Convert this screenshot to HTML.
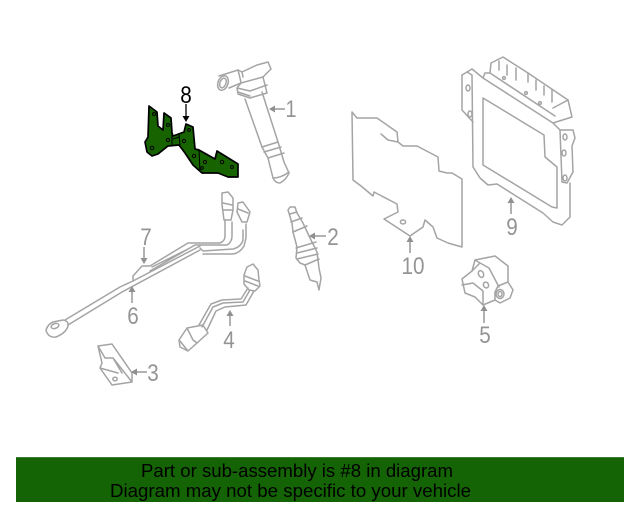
<!DOCTYPE html>
<html>
<head>
<meta charset="utf-8">
<style>
html,body{margin:0;padding:0;background:#fff}
svg{display:block}
text{font-family:"Liberation Sans",sans-serif}
</style>
</head>
<body>
<svg width="640" height="512" viewBox="0 0 640 512" xmlns="http://www.w3.org/2000/svg">
<defs><filter id="s" x="-5%" y="-5%" width="110%" height="110%"><feGaussianBlur stdDeviation="0.35"/></filter></defs>
<g filter="url(#s)">
<g fill="none" stroke="#a4a4a4" stroke-width="1.5" stroke-linejoin="round" stroke-linecap="round">
<!-- 1 coil -->
<ellipse cx="223" cy="83" rx="5" ry="7.5" transform="rotate(20 223 83)"/>
<ellipse cx="223" cy="83" rx="3" ry="5" transform="rotate(20 223 83)"/>
<path d="M219 76L238 70L242 72L257 65L268 62L271 69L263 77L265 85L267 93L250 98L238 94L237 88L241 83L229 88"/>
<path d="M238 70L240 78L241 83L263 77M242 72L243 77M237 88L250 91L267 85M238 92L250 96"/>
<path d="M245 99L262 147L268 158L273 178Q275 183 280 183Q286 180 289 173L284 162L278 142L262 92"/>
<path d="M262 147L278 142M264 152L281 147M268 158L284 153M273 178Q281 178 289 172"/>
<!-- 10 shield -->
<path d="M352 112L357 118L377 118L397 132L398 142L403 146L417 146L438 157L439 171L447 173L452 173L462 179L462 247L448 243L437 238L433 227L425 220L423 227L410 236L384 219L398 212L397 204L374 192L373 196L361 186L353 180Z"/>
<path d="M381 134L388 140L398 142"/>
<ellipse cx="403" cy="222" rx="2.6" ry="2" />
<!-- 9 ECU -->
<path d="M462 75L467 72L472 75L473 167L480 178L488 185L497 184L543 213L553 222L562 225L570 217L570 183"/>
<path d="M472 69L483 78L485 73L490 73L491 63L503 57L528 73L568 100L572 117L553 123L483 78"/>
<path d="M472 69L467 72M462 75L462 110L473 122M490 73L555 116"/>
<path d="M553 123L560 130L573 130L575 138L572 146L573 172L567 183L562 182L560 130"/>
<path d="M483 98L544 135L545 157L557 167L557 208L552 207L483 165Z"/>
<path d="M499 61L499 70M507 65L507 75M516 68L516 80M528 73L528 82M536 80L536 90M544 86L544 95M552 90L552 102M568 100L553 108"/>
<ellipse cx="468" cy="88" rx="2" ry="3"/><ellipse cx="470" cy="114" rx="2" ry="3"/>
<ellipse cx="565" cy="137" rx="2" ry="3"/><ellipse cx="564" cy="153" rx="2" ry="3"/><ellipse cx="565" cy="178" rx="2" ry="3"/>
<circle cx="504" cy="78" r="1.4"/><circle cx="526" cy="93" r="1.4"/><circle cx="540" cy="103" r="1.4"/>
<!-- 2 plug -->
<path d="M288 210L292 223L293 232L297 247L296 258L300 263L305 265L310 280L317 282L319 290L321 278L319 268L318 260L317 252L310 238L303 223L297 213L295 207L290 207Z"/>
<path d="M290 214L297 212M291 222L302 218M293 232L307 226M296 248L316 242M297 253L317 248M297 259L318 254M305 265L319 259"/>
<!-- 6/7 wires -->
<path d="M46 330Q48 324 53 322L63 320Q69 321 68 326Q66 333 56 337Q48 338 46 330Z"/>
<ellipse cx="55" cy="326" rx="4" ry="2.4" transform="rotate(-20 55 326)"/>
<path d="M65 320L120 287L133 281L200 246M68 325L122 292L200 250"/>
<path d="M133 281L133 276L142 266L150 266L188 243L220 243Q225 241 225 236L225 220M150 271L195 245L227 245Q232 242 232 236L232 222M152 267L190 248"/>
<path d="M200 248L203 251L233 249Q241 247 243 240L243 230M203 254L233 254Q240 253 244 246L246 238L246 224"/>
<path d="M222 193L228 192L233 198L233 210L231 220L224 220L222 205ZM223 203L232 205M223 210L232 210"/>
<path d="M238 203L243 202L250 212L247 222L242 222L237 212ZM238 209L248 213"/>
<!-- 4 sensor -->
<path d="M247 267L253 264L258 270L259 280L260 286L255 291L249 290L244 284L244 275ZM245 276L258 281M245 281L258 286"/>
<path d="M250 290L243 302L223 303L213 307L202 327M254 291L246 305L225 307L216 311L207 330M248 288L241 299L222 300L211 304L199 325"/>
<path d="M187 328L203 325L208 333L197 343L188 351L180 347L179 340ZM187 328L193 340L197 343M180 341L188 351"/>
<!-- 3 bracket -->
<path d="M98 346L112 344L132 373L132 382L112 385L100 368L102 363ZM98 346L105 358L113 358L132 382M113 358L122 373M100 368L118 373"/>
<ellipse cx="115" cy="379" rx="2.2" ry="1.8"/>
<!-- 5 block -->
<path d="M475 260L495 256L508 266L508 282L513 290L510 298L500 303L495 300L483 305L475 297L465 293L462 279L472 271Z"/>
<path d="M475 260L480 263L489 268L499 287M480 263L472 271M462 285L473 283L483 291L483 305M508 282L498 286L495 292L495 300"/>
<ellipse cx="481" cy="274" rx="2.5" ry="3.5" transform="rotate(-25 481 274)"/>
<ellipse cx="486" cy="285" rx="2.5" ry="3" transform="rotate(-25 486 285)"/>
<ellipse cx="500" cy="294" rx="4" ry="4.5"/><ellipse cx="500" cy="294" rx="2" ry="2.5"/>
</g>

<!-- 8 bracket (highlighted) -->
<path d="M149 106L157 112L158 126L163 130L164 113L171 118L172 133L173 136L184 132L186 124L193 127L195 149L199 150L215 159L217 151L238 164L238 177L228 177L218 173L202 173L193 165L185 153L179 145L168 146L158 154L152 156L147 152L145 142L148 137Z" fill="#146405" stroke="#000" stroke-width="1.7" stroke-linejoin="round"/>
<g fill="none" stroke="#000" stroke-width="1">
<path d="M172 135L172 146M179 134L180 145M199 150L200 172M173 139L179 137"/>
<circle cx="154" cy="114" r="1.5"/><circle cx="168" cy="125" r="1.5"/><circle cx="168" cy="140" r="1.6"/>
<circle cx="152" cy="148" r="1.8"/><circle cx="184" cy="141" r="1.6"/><circle cx="189" cy="130" r="1.4"/>
<circle cx="194" cy="156" r="1.7"/><circle cx="205" cy="162" r="1.6"/><circle cx="202" cy="168" r="1.4"/>
<circle cx="222" cy="162" r="1.7"/><circle cx="232" cy="167" r="1.5"/>
</g>

<!-- arrows -->
<g stroke="#909090" stroke-width="1.4" fill="#909090">
<path d="M285 109L274 109" fill="none"/><path d="M269 109L275 105.5L275 112.5Z" stroke="none"/>
<path d="M326 236L314 236" fill="none"/><path d="M309 236L315 232.500L315 239.500Z" stroke="none"/>
<path d="M147 372L137 372" fill="none"/><path d="M131 372L137 368.500L137 375.500Z" stroke="none"/>
<path d="M230 326L230 315" fill="none"/><path d="M230 310L226.500 316L233.500 316Z" stroke="none"/>
<path d="M484 323L484 311" fill="none"/><path d="M484 305L480.500 311L487.500 311Z" stroke="none"/>
<path d="M132 303L132 291" fill="none"/><path d="M132 286L128.500 292L135.500 292Z" stroke="none"/>
<path d="M144 247L144 258" fill="none"/><path d="M144 264L140.500 258L147.500 258Z" stroke="none"/>
<path d="M511 214L511 202" fill="none"/><path d="M511 197L507.500 203L514.500 203Z" stroke="none"/>
<path d="M410 253L410 242" fill="none"/><path d="M410 236L406.500 242L413.500 242Z" stroke="none"/>
</g>
<path d="M186 104L186 116" stroke="#000" stroke-width="1.3"/>
<path d="M186 122L182.500 116L189.500 116Z" fill="#000"/>

<!-- labels -->
<g font-size="24" fill="#949494" text-anchor="middle">
<text x="291" y="117" textLength="11" lengthAdjust="spacingAndGlyphs">1</text>
<text x="333" y="245" textLength="11.500" lengthAdjust="spacingAndGlyphs">2</text>
<text x="153" y="381" textLength="11.500" lengthAdjust="spacingAndGlyphs">3</text>
<text x="229" y="348" textLength="11.500" lengthAdjust="spacingAndGlyphs">4</text>
<text x="485" y="343" textLength="11.500" lengthAdjust="spacingAndGlyphs">5</text>
<text x="133" y="324" textLength="11.500" lengthAdjust="spacingAndGlyphs">6</text>
<text x="146" y="245" textLength="11.500" lengthAdjust="spacingAndGlyphs">7</text>
<text x="512" y="235" textLength="11.500" lengthAdjust="spacingAndGlyphs">9</text>
<text x="413" y="274" textLength="23" lengthAdjust="spacingAndGlyphs">10</text>
</g>
<text x="186" y="103" font-size="24" fill="#000" text-anchor="middle" textLength="11.500" lengthAdjust="spacingAndGlyphs">8</text>
</g>

<!-- banner -->
<rect x="16" y="457" width="608" height="45" fill="#146405"/>
<rect x="16" y="457" width="608" height="1" fill="#3a8030"/>
<text x="141" y="477" font-size="18" fill="#000" textLength="312" lengthAdjust="spacingAndGlyphs">Part or sub-assembly is #8 in diagram</text>
<text x="110" y="497" font-size="18" fill="#000" textLength="361" lengthAdjust="spacingAndGlyphs">Diagram may not be specific to your vehicle</text>
</svg>
</body>
</html>
